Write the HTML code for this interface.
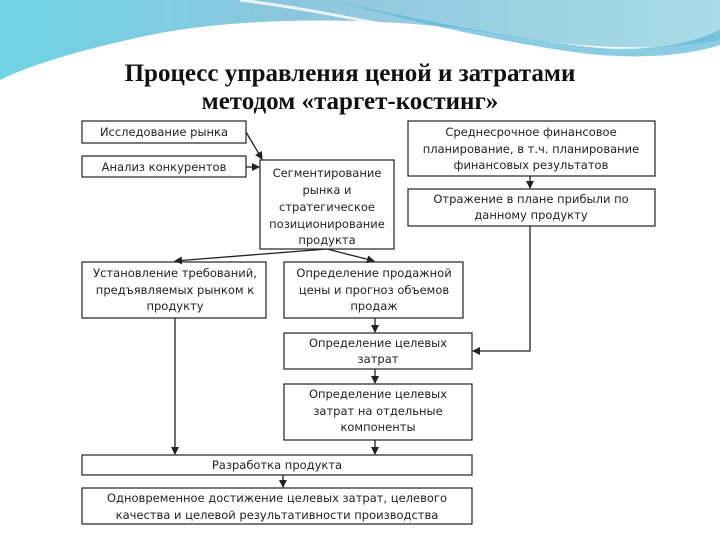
<!DOCTYPE html>
<html><head><meta charset="utf-8"><style>
html,body{margin:0;padding:0;background:#fff;}
svg{display:block}
.t{font-family:"DejaVu Sans","Liberation Sans",sans-serif;font-size:11.5px;fill:#222;text-anchor:middle}
.h{font-family:"Liberation Serif","DejaVu Serif",serif;font-weight:bold;font-size:25px;fill:#111;text-anchor:middle}
rect.b{fill:#fff;stroke:#222;stroke-width:1.2}
line,polyline{stroke:#222;stroke-width:1.3;fill:none}
</style></head><body>
<svg width="720" height="540" viewBox="0 0 720 540" xmlns="http://www.w3.org/2000/svg">
<defs>
<linearGradient id="g" x1="0" y1="0" x2="1" y2="0">
<stop offset="0" stop-color="#6fd3e6"/><stop offset="0.4" stop-color="#8cc6dc"/><stop offset="1" stop-color="#aadbe8"/>
</linearGradient>
<marker id="a" markerWidth="8" markerHeight="8" refX="7" refY="4" orient="auto" markerUnits="userSpaceOnUse"><path d="M0,0 L8,4 L0,8 z" fill="#222"/></marker>
</defs>
<path d="M0,0 H720 V40 C640,55 560,45 470,30 C380,18 250,15 150,35 C80,50 30,65 0,80 Z" fill="url(#g)"/>
<path d="M330,0 C420,20 520,40 600,48 C660,52 700,40 720,30 V45 C680,58 620,60 560,50 C480,38 400,18 330,0 Z" fill="#5bb6d6" opacity="0.7"/>
<path d="M240,0 C320,10 380,25 440,35" stroke="#fff" stroke-width="3" fill="none" opacity="0.8"/>
<text class="h" x="350" y="81">Процесс управления ценой и затратами</text>
<text class="h" x="350" y="109">методом «таргет-костинг»</text>

<rect class="b" x="82" y="121" width="164" height="22"/>
<text class="t" x="164" y="136">Исследование рынка</text>
<rect class="b" x="82" y="156" width="164" height="21"/>
<text class="t" x="164" y="171">Анализ конкурентов</text>
<rect class="b" x="260" y="160" width="134" height="89"/>
<text class="t" x="327" y="177">Сегментирование</text>
<text class="t" x="327" y="194">рынка и</text>
<text class="t" x="327" y="211">стратегическое</text>
<text class="t" x="327" y="228">позиционирование</text>
<text class="t" x="327" y="244">продукта</text>
<rect class="b" x="82" y="262" width="184" height="56"/>
<text class="t" x="175" y="277">Установление требований,</text>
<text class="t" x="175" y="294">предъявляемых рынком к</text>
<text class="t" x="175" y="310">продукту</text>
<rect class="b" x="284" y="262" width="179" height="56"/>
<text class="t" x="374" y="277">Определение продажной</text>
<text class="t" x="374" y="294">цены и прогноз объемов</text>
<text class="t" x="374" y="310">продаж</text>
<rect class="b" x="408" y="121" width="247" height="55"/>
<text class="t" x="531" y="136">Среднесрочное финансовое</text>
<text class="t" x="531" y="153">планирование, в т.ч. планирование</text>
<text class="t" x="531" y="169">финансовых результатов</text>
<rect class="b" x="408" y="189" width="247" height="37"/>
<text class="t" x="531" y="203">Отражение в плане прибыли по</text>
<text class="t" x="531" y="219">данному продукту</text>
<rect class="b" x="284" y="333" width="188" height="36"/>
<text class="t" x="378" y="347">Определение целевых</text>
<text class="t" x="378" y="363">затрат</text>
<rect class="b" x="284" y="384" width="188" height="56"/>
<text class="t" x="378" y="398">Определение целевых</text>
<text class="t" x="378" y="415">затрат на отдельные</text>
<text class="t" x="378" y="431">компоненты</text>
<rect class="b" x="82" y="455" width="390" height="20"/>
<text class="t" x="277" y="469">Разработка продукта</text>
<rect class="b" x="82" y="488" width="390" height="36"/>
<text class="t" x="277" y="502">Одновременное достижение целевых затрат, целевого</text>
<text class="t" x="277" y="519">качества и целевой результативности производства</text>

<line x1="246" y1="132" x2="262" y2="159" marker-end="url(#a)"/>
<line x1="246" y1="167" x2="259" y2="167" marker-end="url(#a)"/>
<polyline points="327,249 175,261" marker-end="url(#a)"/>
<polyline points="327,249 374,261" marker-end="url(#a)"/>
<line x1="175" y1="318" x2="175" y2="454" marker-end="url(#a)"/>
<line x1="375" y1="318" x2="375" y2="332" marker-end="url(#a)"/>
<line x1="375" y1="369" x2="375" y2="383" marker-end="url(#a)"/>
<line x1="375" y1="440" x2="375" y2="454" marker-end="url(#a)"/>
<line x1="283" y1="475" x2="283" y2="487" marker-end="url(#a)"/>
<line x1="530" y1="176" x2="530" y2="188" marker-end="url(#a)"/>
<polyline points="530,226 530,351 473,351" marker-end="url(#a)"/>
</svg>
</body></html>
